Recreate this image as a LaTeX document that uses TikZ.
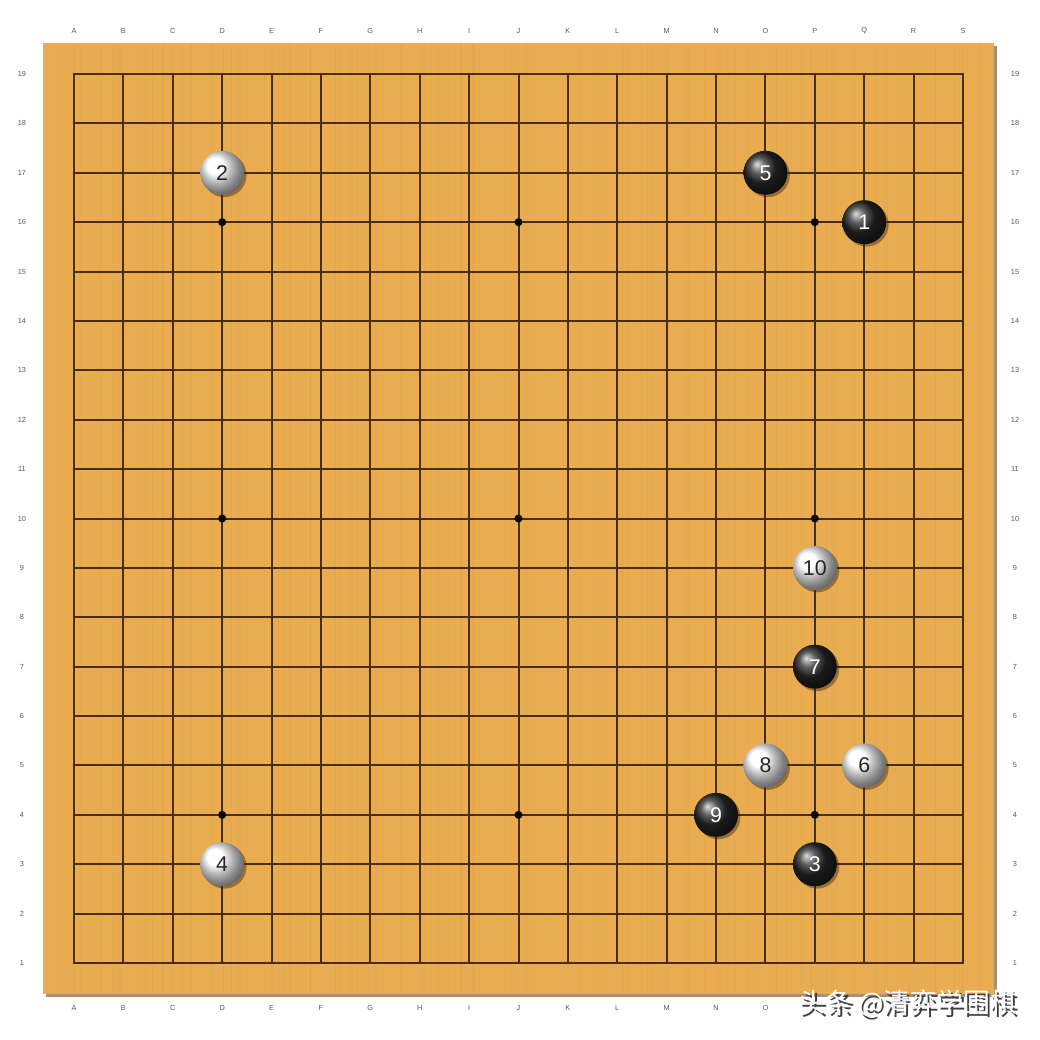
\documentclass[tikz,border=0pt]{standalone}
\usepackage{fontspec}
\setsansfont{Liberation Sans}
\newfontfamily\cjk{Noto Sans CJK SC}
\usetikzlibrary{shadows}
\definecolor{wood}{RGB}{234,172,80}
\definecolor{woodgrain}{RGB}{214,150,62}
\definecolor{gridc}{RGB}{72,46,16}
\definecolor{lblc}{RGB}{90,90,90}
\tikzset{
  gridline/.style={draw=gridc, line width=1.5pt, line cap=rect},
  starpt/.style={circle, fill=black, minimum size=6pt, inner sep=0pt},
  bstone/.style={circle, minimum size=33pt, inner sep=0pt, ball color=black!85, text=white,
     font=\sffamily\fontsize{16}{16}\selectfont,
     drop shadow={shadow xshift=1.8pt, shadow yshift=-1.8pt, opacity=0.45, fill=black!70!brown}},
  wstone/.style={circle, minimum size=33pt, inner sep=0pt, ball color=white, text=black!85,
     font=\sffamily\fontsize{16}{16}\selectfont,
     drop shadow={shadow xshift=1.8pt, shadow yshift=-1.8pt, opacity=0.45, fill=black!70!brown}},
  coordlbl/.style={font=\sffamily\fontsize{5.5}{5.5}\selectfont, text=lblc, inner sep=0pt},
  wmark/.style={anchor=east, inner sep=0pt, font=\cjk\fontsize{20}{20}\selectfont},
}
\newcommand{\gxy}[2]{(74+49.389*#1, 1012.389-49.389*#2)}
\begin{document}
\begin{tikzpicture}[x=0.75pt,y=-0.75pt]
\useasboundingbox (0,0) rectangle (1040,1040);
\fill[white] (0,0) rectangle (1040,1040);
% board with shadow
\fill[black!45!brown, opacity=0.6] (46,46) rectangle (997,997);
\fill[wood] (43,43) rectangle (994,994);
% wood grain
\pgfmathsetseed{7}
\foreach \k in {1,...,140} {
  \pgfmathsetmacro{\gx}{44+950*rnd}
  \pgfmathsetmacro{\go}{0.06+0.16*rnd}
  \draw[woodgrain, opacity=\go, line width=0.6pt] (\gx,44) -- (\gx,993);
}
% grid (snapped to whole pixels)
\foreach \i in {0,...,18} {
  \pgfmathsetmacro{\p}{round(74+49.389*\i)}
  \draw[gridline] (\p,74) -- (\p,963);
  \draw[gridline] (74,\p) -- (963,\p);
}
% star points
\foreach \c/\r [count=\n] in {3/4,3/10,3/16,9/4,9/10,9/16,15/4,15/10,15/16} {
  \node[starpt] (star\n) at \gxy{\c}{\r} {};
}
% coordinate labels
\foreach \L [count=\n from 0] in {A,B,C,D,E,F,G,H,I,J,K,L,M,N,O,P,Q,R,S} {
  \node[coordlbl] (top\n) at (74+49.389*\n, 31) {\L};
}
\foreach \L [count=\n from 0] in {A,B,C,D,E,F,G,H,I,J,K,L,M,N,O} {
  \node[coordlbl] (bot\n) at (74+49.389*\n, 1008) {\L};
}
\foreach \r in {1,...,19} {
  \node[coordlbl] (left\r) at (22, 1012.389-49.389*\r) {\r};
  \node[coordlbl] (right\r) at (1015, 1012.389-49.389*\r) {\r};
}
% stones: column index (A=0), row
\node[bstone] (s1) at \gxy{16}{16} {1};
\node[wstone] (s2) at \gxy{3}{17} {2};
\node[bstone] (s3) at \gxy{15}{3} {3};
\node[wstone] (s4) at \gxy{3}{3} {4};
\node[bstone] (s5) at \gxy{14}{17} {5};
\node[wstone] (s6) at \gxy{16}{5} {6};
\node[bstone] (s7) at \gxy{15}{7} {7};
\node[wstone] (s8) at \gxy{14}{5} {8};
\node[bstone] (s9) at \gxy{13}{4} {9};
\node[wstone] (s10) at \gxy{15}{9} {10};
% watermark
\node[wmark, text=black!75] (wmshadow) at (1019.5,1006) {头条 @清弈学围棋};
\node[wmark, text=white] (wm) at (1017,1003.5) {头条 @清弈学围棋};
\end{tikzpicture}
\end{document}
